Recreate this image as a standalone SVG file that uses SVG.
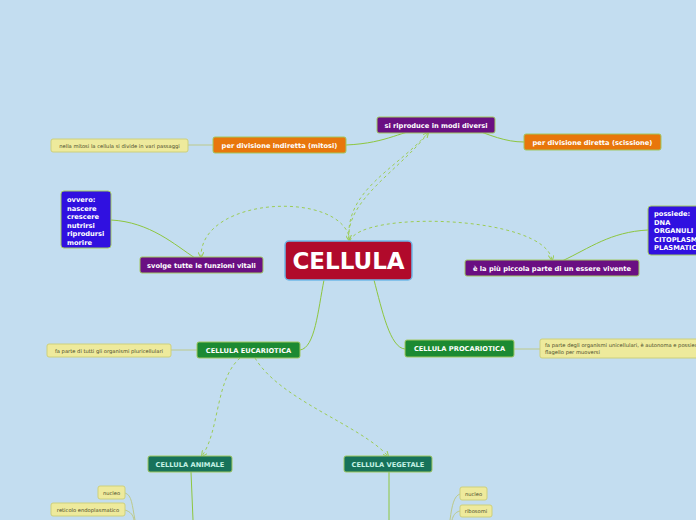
<svg xmlns="http://www.w3.org/2000/svg" width="696" height="520" viewBox="0 0 696 520">
<style>
text{font-family:"DejaVu Sans","Liberation Sans",sans-serif;font-weight:bold;}
.w{fill:#fff;font-size:6.7px}
.y{fill:#4a4a2a;font-size:5.2px;font-weight:normal}
.c{fill:#c6f2e6;font-size:6.7px}
.ln{fill:none;stroke:#8dc63f;stroke-width:1}
.ly{fill:none;stroke:#bcc98a;stroke-width:1}
.d{fill:none;stroke:#9ccc55;stroke-width:1;stroke-dasharray:3,3;marker-end:url(#a)}
.yb{fill:#eeea9c;stroke:#cdd07c;stroke-width:1}
</style>
<defs><marker id="a" viewBox="0 0 6 6" refX="5" refY="3" markerWidth="6" markerHeight="6" orient="auto"><path d="M0,0 L6,3 L0,6" fill="none" stroke="#9ccc55"/></marker></defs>
<rect width="696" height="520" fill="#c3ddf0"/>
<g id="connectors">
<path class="ln" d="M346,145 C390,143 400,130 430,128"/>
<path class="ln" d="M470,128 C490,135 505,142 524,142"/>
<path class="ly" d="M188,145 L213,145"/>
<path class="ln" d="M111,220 C150,222 175,245 195,258"/>
<path class="ln" d="M648,230 C610,232 590,248 562,261"/>
<path class="ln" d="M324,280 C318,310 315,348 300,350"/>
<path class="ln" d="M374,280 C382,310 390,348 405,349"/>
<path class="ly" d="M171,350 L197,350"/>
<path class="ly" d="M514,349 L540,349"/>
<path class="ln" d="M191,472 L193,520"/>
<path class="ln" d="M389,472 L389,520"/>
<path class="ly" d="M125,493 C132,495 132,505 135,520"/>
<path class="ly" d="M125,510 C131,512 133,515 134,520"/>
<path class="ly" d="M460,494 C454,496 452,505 450,520"/>
<path class="ly" d="M460,511 C455,512 453,516 452,520"/>
<path class="d" d="M349,240 C345,190 395,170 428,133"/>
<path class="d" d="M428,133 C400,170 345,200 349,240"/>
<path class="d" d="M350,241 C345,190 200,195 201,257"/>
<path class="d" d="M350,241 C360,210 545,215 552,260"/>
<path class="d" d="M240,358 C215,380 220,430 202,456"/>
<path class="d" d="M255,358 C280,400 360,425 388,456"/>
</g>
<g id="n-cellula"><rect x="285" y="241" width="127" height="39" rx="4" fill="#b10a2b" stroke="#6fb8e8" stroke-width="1.5"/><text x="348.5" y="269" text-anchor="middle" fill="#fff" style="font-size:23px">CELLULA</text></g>
<g id="n-riproduce"><rect x="377" y="117" width="118" height="16" rx="2" fill="#6a0f82" stroke="#a0c860"/><text class="w" x="436" y="127.5" text-anchor="middle">si riproduce in modi diversi</text></g>
<g id="n-mitosi"><rect x="213" y="137" width="133" height="16" rx="2" fill="#e8760b" stroke="#a0c860"/><text class="w" x="279.5" y="147.5" text-anchor="middle">per divisione indiretta (mitosi)</text></g>
<g id="n-mitosi-note"><rect class="yb" x="51" y="139" width="137" height="13" rx="2"/><text class="y" x="119.5" y="147.5" text-anchor="middle">nella mitosi la cellula si divide in vari passaggi</text></g>
<g id="n-scissione"><rect x="524" y="134" width="137" height="16" rx="2" fill="#e8760b" stroke="#a0c860"/><text class="w" x="592.5" y="144.5" text-anchor="middle">per divisione diretta (scissione)</text></g>
<g id="n-ovvero"><rect x="61" y="191" width="50" height="57" rx="3" fill="#3010e0" stroke="#a0c860"/><text class="w" x="67" y="202">ovvero:<tspan x="67" dy="8.5">nascere</tspan><tspan x="67" dy="8.5">crescere</tspan><tspan x="67" dy="8.5">nutrirsi</tspan><tspan x="67" dy="8.5">riprodursi</tspan><tspan x="67" dy="8.5">morire</tspan></text></g>
<g id="n-funzioni"><rect x="140" y="257" width="123" height="16" rx="2" fill="#6a0f82" stroke="#a0c860"/><text class="w" x="201.5" y="267.5" text-anchor="middle">svolge tutte le funzioni vitali</text></g>
<g id="n-piccola"><rect x="465" y="260" width="174" height="16" rx="2" fill="#6a0f82" stroke="#a0c860"/><text class="w" x="552" y="270.5" text-anchor="middle">è la più piccola parte di un essere vivente</text></g>
<g id="n-possiede"><rect x="648" y="206" width="56" height="49" rx="3" fill="#3010e0" stroke="#a0c860"/><text class="w" x="654" y="216">possiede:<tspan x="654" dy="8.5">DNA</tspan><tspan x="654" dy="8.5">ORGANULI</tspan><tspan x="654" dy="8.5">CITOPLASMA</tspan><tspan x="654" dy="8.5">PLASMATICA</tspan></text></g>
<g id="n-eucariotica"><rect x="197" y="342" width="103" height="16" rx="2" fill="#1c8a32" stroke="#a0c860"/><text class="w" x="248.5" y="352.5" text-anchor="middle">CELLULA EUCARIOTICA</text></g>
<g id="n-eu-note"><rect class="yb" x="47" y="344" width="124" height="13" rx="2"/><text class="y" x="109" y="352.5" text-anchor="middle">fa parte di tutti gli organismi pluricellulari</text></g>
<g id="n-procariotica"><rect x="405" y="340" width="109" height="17" rx="2" fill="#1c8a32" stroke="#a0c860"/><text class="w" x="459.5" y="351" text-anchor="middle">CELLULA PROCARIOTICA</text></g>
<g id="n-pro-note"><rect class="yb" x="540" y="339" width="165" height="19" rx="2"/><text class="y" x="545" y="347">fa parte degli organismi unicellulari, è autonoma e possiede un<tspan x="545" dy="6.5">flagello per muoversi</tspan></text></g>
<g id="n-animale"><rect x="148" y="456" width="84" height="16" rx="2" fill="#17725a" stroke="#a0c860"/><text class="c" x="190" y="466.5" text-anchor="middle">CELLULA ANIMALE</text></g>
<g id="n-vegetale"><rect x="344" y="456" width="88" height="16" rx="2" fill="#17725a" stroke="#a0c860"/><text class="c" x="388" y="466.5" text-anchor="middle">CELLULA VEGETALE</text></g>
<g id="n-a-nucleo"><rect class="yb" x="98" y="486" width="27" height="13" rx="2"/><text class="y" x="111.5" y="494.5" text-anchor="middle">nucleo</text></g>
<g id="n-a-reticolo"><rect class="yb" x="51" y="503" width="74" height="13" rx="2"/><text class="y" x="88" y="511.5" text-anchor="middle">reticolo endoplasmatico</text></g>
<g id="n-v-nucleo"><rect class="yb" x="460" y="487" width="27" height="13" rx="2"/><text class="y" x="473.5" y="495.5" text-anchor="middle">nucleo</text></g>
<g id="n-v-ribosomi"><rect class="yb" x="460" y="505" width="32" height="12" rx="2"/><text class="y" x="476" y="513" text-anchor="middle">ribosomi</text></g>
</svg>
